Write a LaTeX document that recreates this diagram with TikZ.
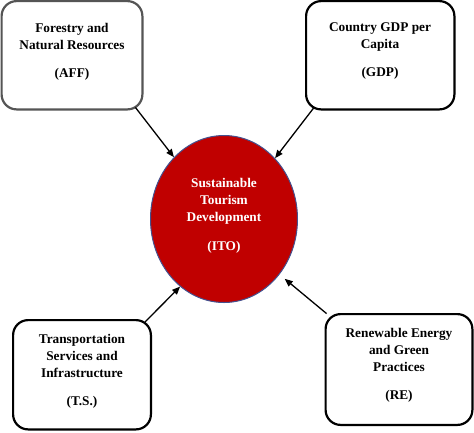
\documentclass[tikz,border=0pt]{standalone}
\usepackage{fontspec}
\setmainfont{Liberation Serif}
\usetikzlibrary{shapes.geometric,arrows.meta}
\definecolor{ellred}{HTML}{C00000}
\definecolor{ellblue}{HTML}{44518F}
\definecolor{boxgray}{HTML}{555555}
\begin{document}
\begin{tikzpicture}[x=1pt,y=-1pt,
  infobox/.style={draw=black, rounded corners=15pt, line width=2.2pt, inner sep=0pt, outer sep=0pt, fill=white},
  lbl/.style={font=\fontsize{13.3}{17}\selectfont\bfseries, align=center, inner sep=0pt},
  conn/.style={-{Triangle[length=8pt,width=6.5pt]}, line width=1.3pt, draw=black}]
\useasboundingbox (0,0) rectangle (474,432);
% boxes
\node[infobox, draw=boxgray, minimum width=140.8pt, minimum height=108.3pt] (aff) at (72,55.25) {};
\node[lbl] (afftext) at (72,52) {Forestry and\\Natural Resources\\[11pt](AFF)};
\node[infobox, minimum width=148.3pt, minimum height=108.3pt] (gdp) at (380.25,55.25) {};
\node[lbl] (gdptext) at (380,51.5) {Country GDP per\\Capita\\[11pt](GDP)};
\node[infobox, minimum width=137.8pt, minimum height=109.3pt] (ts) at (82,374.75) {};
\node[lbl] (tstext) at (82,371) {Transportation\\Services and\\Infrastructure\\[11pt](T.S.)};
\node[infobox, minimum width=146.8pt, minimum height=110.8pt] (re) at (399,369.5) {};
\node[lbl] (retext) at (399,365) {Renewable Energy\\and Green\\Practices\\[11pt](RE)};
% central ellipse
\node[ellipse, draw=ellblue, fill=ellred, line width=1pt, minimum width=147pt, minimum height=167pt, inner sep=0pt] (ito) at (224,219) {};
\node[lbl, text=white] (itotext) at (224,216) {Sustainable\\Tourism\\Development\\[12pt](ITO)};
% connector start points
\coordinate (affout) at ([xshift=-7pt,yshift=2pt]aff.south east);
\coordinate (gdpout) at ([xshift=8pt,yshift=2pt]gdp.south west);
\coordinate (tsout) at ([xshift=-6pt,yshift=-2pt]ts.north east);
\coordinate (reout) at ([xshift=1pt,yshift=0.5pt]re.north west);
% connectors
\draw[conn] (affout) -- (ito.129.4);
\draw[conn] (gdpout) -- (ito.50.4);
\draw[conn] (tsout) -- (ito.237.5);
\draw[conn, shorten >=6.7pt] (reout) -- (ito.315.6);
\end{tikzpicture}
\end{document}
